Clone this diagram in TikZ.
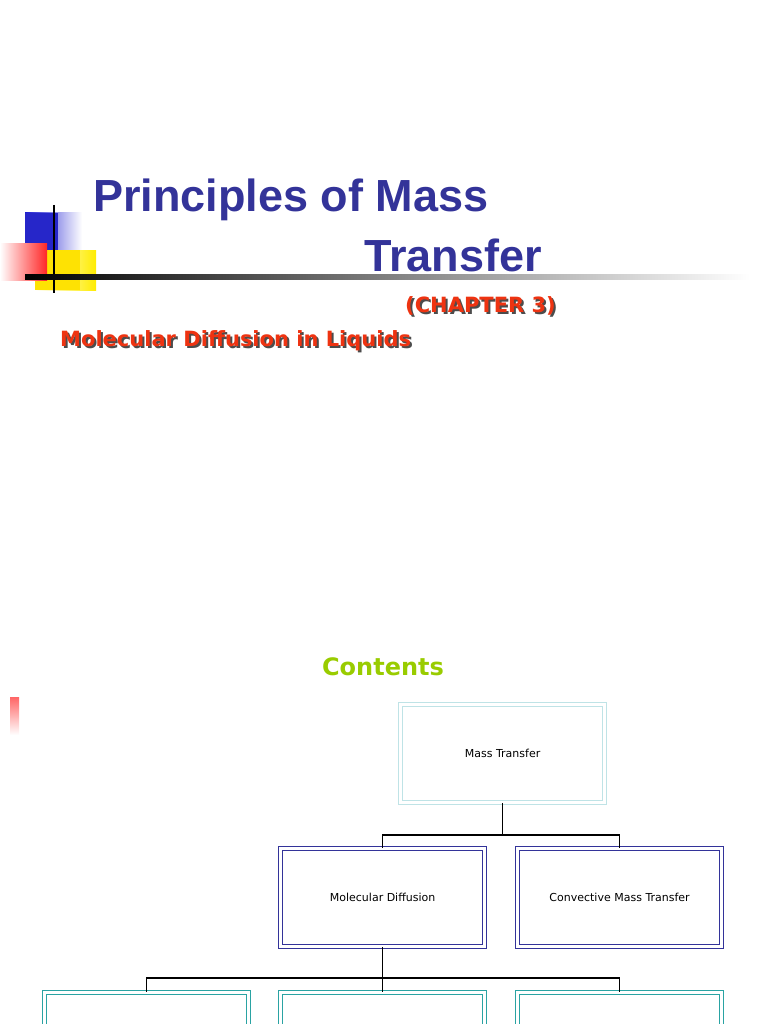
\documentclass[tikz,border=0pt]{standalone}
\usepackage{fontspec}
\setmainfont{Liberation Sans}
\newfontfamily\dv{DejaVu Sans}
\usetikzlibrary{fadings,shadings}
\definecolor{ttl}{HTML}{333399}
\definecolor{rd}{HTML}{EE3311}
\definecolor{grn}{HTML}{99CC00}
\definecolor{lcy}{HTML}{BFE3E6}
\definecolor{nav}{HTML}{333399}
\definecolor{tea}{HTML}{2AA3A3}
\tikzset{
  bx/.style={draw=#1,line width=1.2pt,double=white,double distance=2.5pt,minimum width=204pt,minimum height=98pt,font=\dv\fontsize{11}{13}\selectfont,inner sep=0pt,anchor=north west},
  conn/.style={line width=1.6pt,black}
}
\begin{document}
\begin{tikzpicture}[x=1pt,y=-1pt]
\useasboundingbox (0,0) rectangle (768,1024);
% logo
\shade[left color=blue!80!black!90, right color=white] (25,213) rectangle (82,262);
\fill[blue!75!black!85] (25,213) rectangle (58,262);
\shade[left color=white, right color=yellow!85!orange] (35,250) rectangle (96,290);
\fill[yellow!85!orange] (35,250) rectangle (80,290);
\shade[left color=white, right color=red!85] (0,243) rectangle (47,280);
\draw[line width=1.2pt] (54,205) -- (54,293);
\shade[left color=black, right color=white] (25,274) rectangle (750,279);
% title
\node[anchor=base west,text=ttl,font=\bfseries\fontsize{45}{50}\selectfont,inner sep=0] (t1) at (93,212) {Principles of Mass};
\node[anchor=base east,text=ttl,font=\bfseries\fontsize{45}{50}\selectfont,inner sep=0] (t2) at (542,271) {Transfer};
\node[anchor=base east,text=black!70,font=\dv\bfseries\fontsize{21}{24}\selectfont,inner sep=0] at (558,314) {(CHAPTER 3)};
\node[anchor=base east,text=rd,font=\dv\bfseries\fontsize{21}{24}\selectfont,inner sep=0] (ch) at (556,312) {(CHAPTER 3)};
\node[anchor=base west,text=black!70,font=\dv\bfseries\fontsize{21}{24}\selectfont,inner sep=0] at (62,348) {Molecular Diffusion in Liquids};
\node[anchor=base west,text=rd,font=\dv\bfseries\fontsize{21}{24}\selectfont,inner sep=0] (md) at (60,346) {Molecular Diffusion in Liquids};
\node[text=grn,font=\dv\bfseries\fontsize{24}{28}\selectfont,inner sep=0] (ct) at (383,667) {Contents};
\shade[top color=red!60, bottom color=white] (10,697) rectangle (19,735);
% boxes
\node[bx=lcy] (mt) at (400,704) {Mass Transfer};
\node[bx=nav] (mdf) at (280,848) {Molecular Diffusion};
\node[bx=nav] (cmt) at (517,848) {Convective Mass Transfer};
\node[bx=tea,minimum height=60pt] (b1) at (44,992) {};
\node[bx=tea,minimum height=60pt] (b2) at (280,992) {};
\node[bx=tea,minimum height=60pt] (b3) at (517,992) {};
\draw[conn] (mt.south) -- ++(0,32) -| (cmt.north);
\draw[conn] (mt.south) ++(0,32) -| (mdf.north);
\draw[conn] (mdf.south) -- ++(0,31) -| (b3.north);
\draw[conn] (mdf.south) ++(0,31) -| (b1.north);
\draw[conn] (mdf.south) -- (b2.north);
\end{tikzpicture}
\end{document}
